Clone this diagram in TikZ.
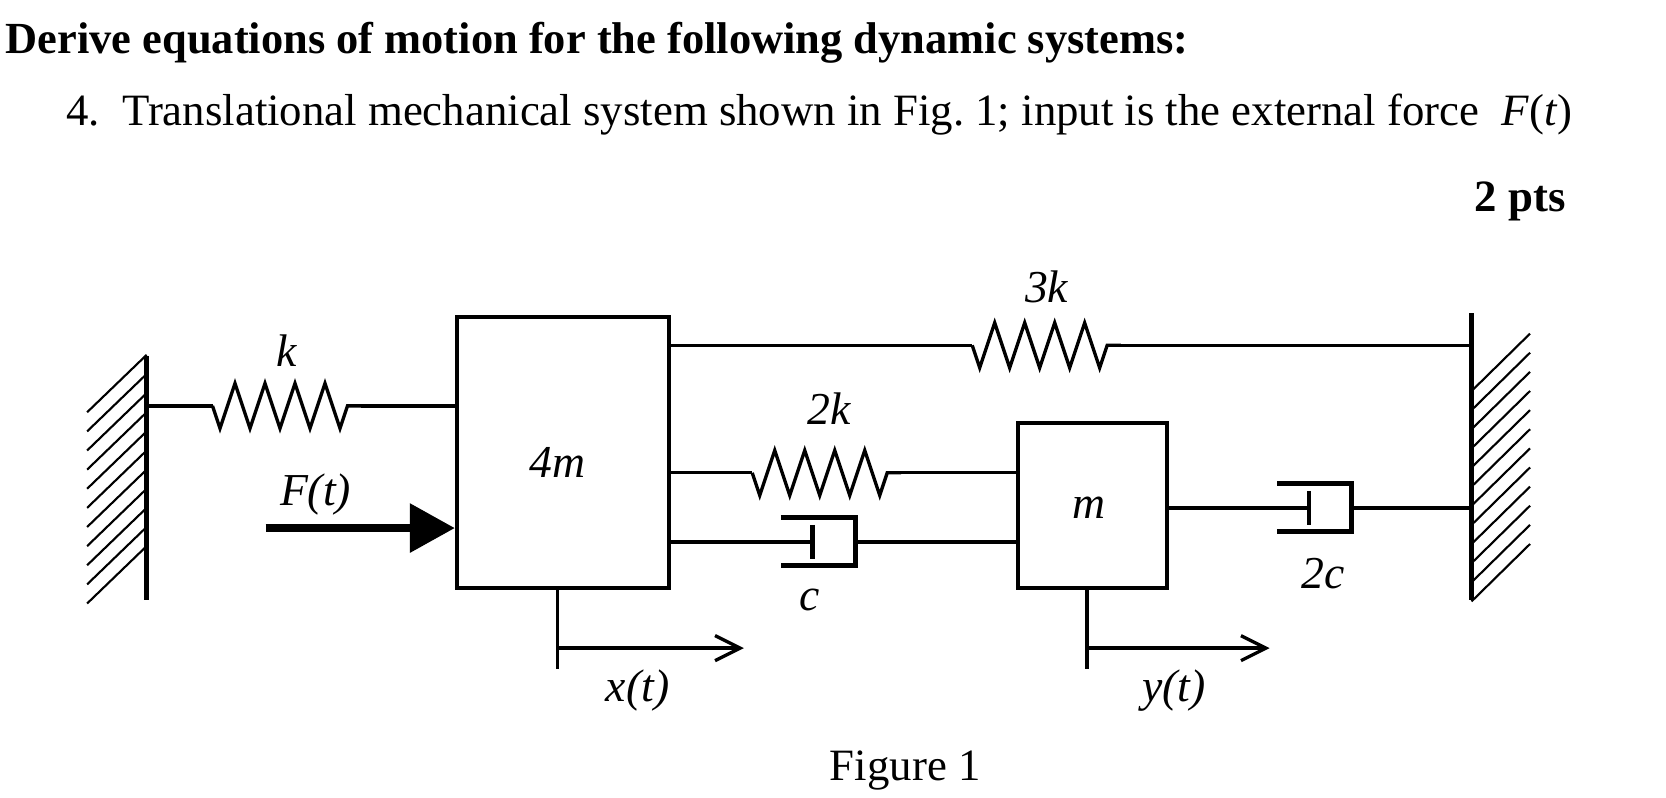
\documentclass[tikz,border=0pt]{standalone}
\usepackage{fontspec}
\setmainfont{Liberation Serif}
\usetikzlibrary{arrows.meta,decorations.pathmorphing}

\tikzset{
  lbl/.style={font=\fontsize{26}{30}\selectfont\itshape},
  mass/.style={draw,line width=2.3pt,inner sep=0pt},
  link/.style={line width=1.9pt},
  spring/.style={link,decorate,decoration={zigzag,mirror,amplitude=0.45cm,segment length=0.6cm}},
  hatch/.style={line width=1.2pt}
}

\begin{document}
\begin{tikzpicture}[x=0.02125cm,y=-0.02125cm]
  \useasboundingbox (0,0) rectangle (1568,751);

% texts
\node[anchor=west,inner sep=0pt,font=\fontsize{25.3}{30}\selectfont\bfseries] (title) at (5,40) {Derive equations of motion for the following dynamic systems:};
\node[anchor=west,inner sep=0pt,font=\fontsize{25.5}{30}\selectfont] (task) at (62,108) {4.\ \ Translational mechanical system shown in Fig.~1; input is the external force \ \textit{F}(\textit{t})};
\node[anchor=east,inner sep=0pt,font=\fontsize{25.5}{30}\selectfont\bfseries] (pts) at (1474,190) {2 pts};
\node[font=\fontsize{25.5}{30}\selectfont] (fig) at (852,725) {Figure 1};

% walls
\coordinate (lwT) at (138,335); \coordinate (lwB) at (138,565);
\coordinate (rwT) at (1385,295); \coordinate (rwB) at (1385,565);
\draw[line width=2.6pt] (lwT) -- (lwB);
\draw[line width=2.6pt] (rwT) -- (rwB);
\foreach \y in {340,358,...,520}
  \draw[hatch] (82,\y+48) -- (138,\y-6);
\foreach \y in {320,338,...,520}
  \draw[hatch] (1385,\y+48) -- (1440,\y-6);

% masses
\node[mass,minimum width=200*0.02125cm,minimum height=255*0.02125cm] (M4) at (530,425.5) {};
\node[mass,minimum width=140*0.02125cm,minimum height=155*0.02125cm] (M1) at (1028,475.5) {};
\node[lbl] at (525,435) {4m};
\node[lbl] at (1025,478) {m};

% spring k
\coordinate (k1) at (138,382); \coordinate (k2) at (200,382);
\coordinate (k3) at (340,382); \coordinate (k4) at (430,382);
\draw[link] (k1) -- (k2) (k3) -- (k4);
\draw[spring] (k2) -- (k3);
\node[lbl] at (270,330) {k};

% spring 3k
\coordinate (t1) at (630,325); \coordinate (t2) at (915,325);
\coordinate (t3) at (1055,325); \coordinate (t4) at (1385,325);
\draw[link] (t1) -- (t2) (t3) -- (t4);
\draw[spring] (t2) -- (t3);
\node[lbl] at (985,270) {3k};

% spring 2k
\coordinate (s1) at (630,445); \coordinate (s2) at (708,445);
\coordinate (s3) at (848,445); \coordinate (s4) at (958,445);
\draw[link] (s1) -- (s2) (s3) -- (s4);
\draw[spring] (s2) -- (s3);
\node[lbl] at (780,385) {2k};

% damper c
\coordinate (c1) at (630,510); \coordinate (c2) at (765,510);
\coordinate (c3) at (805,510); \coordinate (c4) at (958,510);
\draw[link] (c1) -- (c2) (c3) -- (c4);
\draw[line width=2.8pt] (765,494) -- (765,526);
\draw[line width=2.8pt] (735,487) -- (805,487) -- (805,532) -- (735,532);
\node[lbl] at (762,565) {c};

% damper 2c
\coordinate (d1) at (1098,478); \coordinate (d2) at (1232,478);
\coordinate (d3) at (1272,478); \coordinate (d4) at (1385,478);
\draw[link] (d1) -- (d2) (d3) -- (d4);
\draw[line width=2.8pt] (1232,462) -- (1232,494);
\draw[line width=2.8pt] (1202,455) -- (1272,455) -- (1272,500) -- (1202,500);
\node[lbl] at (1245,540) {2c};

% force
\coordinate (f1) at (250,497);
\draw[line width=4.5pt,-{Triangle[length=0.9cm,width=0.95cm]}] (f1) -- (M4.west |- f1);
\node[lbl] at (297,465) {F(t)};

% displacements
\coordinate (x0) at (525,553); \coordinate (x1) at (525,630);
\coordinate (x2) at (525,610); \coordinate (x3) at (700,610);
\draw[link] (x0) -- (x1);
\draw[link,-{Straight Barb[length=0.5cm,width=0.5cm]}] (x2) -- (x3);
\node[lbl] at (600,650) {x(t)};
\coordinate (y0) at (1023,553); \coordinate (y1) at (1023,630);
\coordinate (y2) at (1023,610); \coordinate (y3) at (1195,610);
\draw[link] (y0) -- (y1);
\draw[link,-{Straight Barb[length=0.5cm,width=0.5cm]}] (y2) -- (y3);
\node[lbl] at (1105,650) {y(t)};
\end{tikzpicture}
\end{document}
